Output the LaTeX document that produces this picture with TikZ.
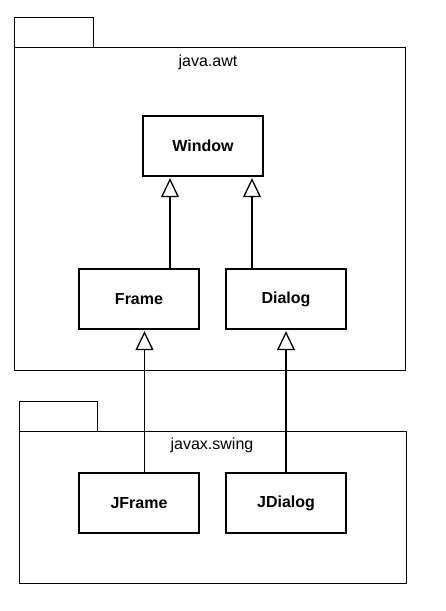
\documentclass[tikz,border=0pt]{standalone}
\usepackage{fontspec}
\setmainfont{Liberation Sans}
\usetikzlibrary{arrows.meta}
\begin{document}
\begin{tikzpicture}[x=1pt,y=-1pt,
  line width=1.3pt,
  cls/.style={draw,minimum width=120pt,minimum height=60pt,inner sep=0pt,font=\fontsize{16}{18}\selectfont\bfseries},
  pkg/.style={draw,anchor=north west,inner sep=0pt},
  pkgname/.style={font=\fontsize{16}{18}\selectfont,inner sep=0pt},
  gen/.style={-{Triangle[open,width=18pt,length=19pt,line width=1.3pt]},shorten >=1.5pt}
]
\useasboundingbox (0,0) rectangle (445,611);
% package java.awt
\node[pkg,minimum width=79pt,minimum height=30pt] (awttab) at (14,17) {};
\node[pkg,minimum width=391pt,minimum height=323pt] (awt) at (14,47) {};
\node[pkgname] (awtname) at (208,62) {java.awt};
% package javax.swing
\node[pkg,minimum width=78pt,minimum height=30pt] (swingtab) at (19,401) {};
\node[pkg,minimum width=387pt,minimum height=152pt] (swing) at (19,431) {};
\node[pkgname] (swingname) at (212,445) {javax.swing};
% classes
\node[cls] (window) at (203,146) {Window};
\node[cls] (frame) at (139,299) {Frame};
\node[cls] (dialog) at (286,299) {Dialog};
\node[cls] (jframe) at (139,503) {JFrame};
\node[cls] (jdialog) at (286,503) {JDialog};
% generalizations
\draw[gen] ([xshift=31pt]frame.north) -- ([xshift=-33pt]window.south);
\draw[gen] ([xshift=-34pt]dialog.north) -- ([xshift=49pt]window.south);
\draw[gen] ([xshift=5.5pt]jframe.north) -- ([xshift=5.5pt]frame.south);
\draw[gen] (jdialog.north) -- (dialog.south);
\end{tikzpicture}
\end{document}
